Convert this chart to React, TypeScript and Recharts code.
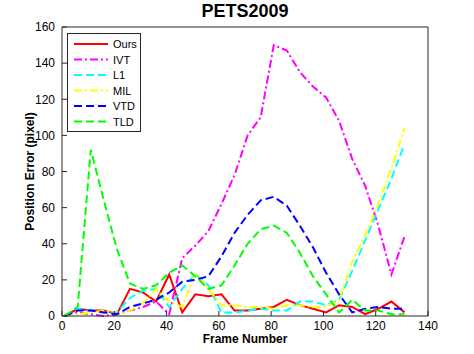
import React from "react";
import { LineChart, Line, XAxis, YAxis, Legend } from "recharts";

// frame numbers where errors were sampled
const frames = [1, 6, 11, 16, 21, 26, 31, 36, 41, 46, 51, 56, 61, 66, 71, 76, 81, 86, 91, 96, 101, 106, 111, 116, 121, 126, 131];

const ours = [0, 4, 3, 3, 1, 15, 13, 8, 23, 2, 12, 11, 12, 3, 3, 4, 5, 9, 6, 4, 2, 6, 5, 1, 4, 8, 2];
const ivt = [0, 2, 1, 0, 1, 3, 5, 8, 1, 32, 39, 47, 62, 78, 100, 110, 150, 147, 135, 127, 121, 108, 87, 72, 50, 23, 44];
const l1 = [0, 4, 3, 2, 2, 10, 14, 15, 5, 15, 23, 17, 2, 2, 3, 4, 3, 3, 8, 8, 6, 9, 25, 42, 59, 76, 95];
const mil = [0, 1, 2, 3, 1, 3, 7, 15, 8, 5, 24, 15, 6, 6, 5, 5, 4, 6, 6, 5, 5, 9, 30, 45, 62, 82, 104];
const vtd = [0, 3, 3, 2, 1, 5, 7, 9, 13, 19, 20, 22, 33, 46, 56, 64, 66, 61, 50, 38, 24, 12, 2, 4, 5, 4, 4];
const tld = [0, 5, 92, 64, 37, 18, 15, 17, 24, 28, 22, 15, 17, 28, 40, 48, 50, 46, 35, 22, 12, 2, 9, 3, 3, 1, 1];

const xTicks = [0, 20, 40, 60, 80, 100, 120, 140];
const yTicks = [0, 20, 40, 60, 80, 100, 120, 140, 160];

const DASH = "8 4";
const DASHDOT = "8 3 2 3";

const series = [
  { key: "Ours", values: ours, color: "#ff0000", dash: undefined },
  { key: "IVT", values: ivt, color: "#ff00ff", dash: DASHDOT },
  { key: "L1", values: l1, color: "#00ffff", dash: DASH },
  { key: "MIL", values: mil, color: "#ffff00", dash: DASHDOT },
  { key: "VTD", values: vtd, color: "#0000ff", dash: DASH },
  { key: "TLD", values: tld, color: "#00ff00", dash: DASH },
];

const data = frames.map((f, i) => {
  const row: Record<string, number> = { frame: f };
  series.forEach((s) => (row[s.key] = s.values[i]));
  return row;
});

const FONT = "'Liberation Sans', Arial, Helvetica, sans-serif";
const AXIS = "#262626";

function LegendBox() {
  return (
    <div style={{ border: `1px solid ${AXIS}`, background: "#fff", width: 72, height: 97 }}>
      <svg width={72} height={97}>
        {series.map((s, i) => {
          const y = 10 + i * 15.5;
          return (
            <g key={s.key}>
              <line x1={6} x2={40} y1={y} y2={y} stroke={s.color} strokeWidth={2} strokeDasharray={s.dash} />
              <text x={45} y={y + 4} fontSize={11} fontFamily={FONT} fill="#000">
                {s.key}
              </text>
            </g>
          );
        })}
      </svg>
    </div>
  );
}

function YTitle(props: any) {
  const vb = props.viewBox || { x: 0, y: 0, height: 0 };
  const cx = vb.x + 30;
  const cy = vb.y + vb.height / 2;
  return (
    <text
      x={cx}
      y={cy}
      transform={`rotate(-90, ${cx}, ${cy})`}
      textAnchor="middle"
      dominantBaseline="central"
      fontSize={12}
      fontWeight="bold"
      fontFamily={FONT}
      fill="#000"
    >
      Position Error (pixel)
    </text>
  );
}

export default function App() {
  return (
    <div style={{ position: "absolute", left: 0, top: 0, width: 474, height: 354, background: "#fff" }}>
      <div
        style={{
          position: "absolute",
          left: 0,
          top: 1,
          width: 490,
          textAlign: "center",
          fontFamily: FONT,
          fontWeight: "bold",
          fontSize: 18,
          color: "#000",
        }}
      >
        PETS2009
      </div>
      <LineChart width={474} height={354} data={data} margin={{ top: 26, right: 45, bottom: 0, left: 0 }}>
        <XAxis
          dataKey="frame"
          type="number"
          domain={[0, 140]}
          ticks={xTicks}
          height={38}
          tickSize={-5}
          tickMargin={10}
          stroke={AXIS}
          tick={{ fill: "#000", fontSize: 12, fontFamily: FONT }}
          label={{
            value: "Frame Number",
            position: "insideBottom",
            offset: 11,
            style: { fontSize: 12, fontWeight: "bold", fontFamily: FONT, fill: "#000" },
          }}
        />
        <XAxis
          xAxisId="top"
          orientation="top"
          dataKey="frame"
          type="number"
          domain={[0, 140]}
          ticks={xTicks}
          height={1}
          tickSize={-5}
          tick={false}
          stroke={AXIS}
        />
        <YAxis
          type="number"
          domain={[0, 160]}
          ticks={yTicks}
          width={62}
          tickSize={-5}
          tickMargin={12}
          stroke={AXIS}
          tick={{ fill: "#000", fontSize: 12, fontFamily: FONT }}
          label={<YTitle />}
        />
        <YAxis
          yAxisId="right"
          orientation="right"
          type="number"
          domain={[0, 160]}
          ticks={yTicks}
          width={1}
          tickSize={-5}
          tick={false}
          stroke={AXIS}
        />
        <Legend
          layout="vertical"
          align="center"
          verticalAlign="middle"
          wrapperStyle={{ left: 67, top: 33, width: 74, height: 99 }}
          content={() => <LegendBox />}
        />
        {series.map((s) => (
          <Line
            key={s.key}
            dataKey={s.key}
            type="linear"
            stroke={s.color}
            strokeWidth={2}
            strokeDasharray={s.dash}
            dot={false}
            isAnimationActive={false}
          />
        ))}
      </LineChart>
    </div>
  );
}
